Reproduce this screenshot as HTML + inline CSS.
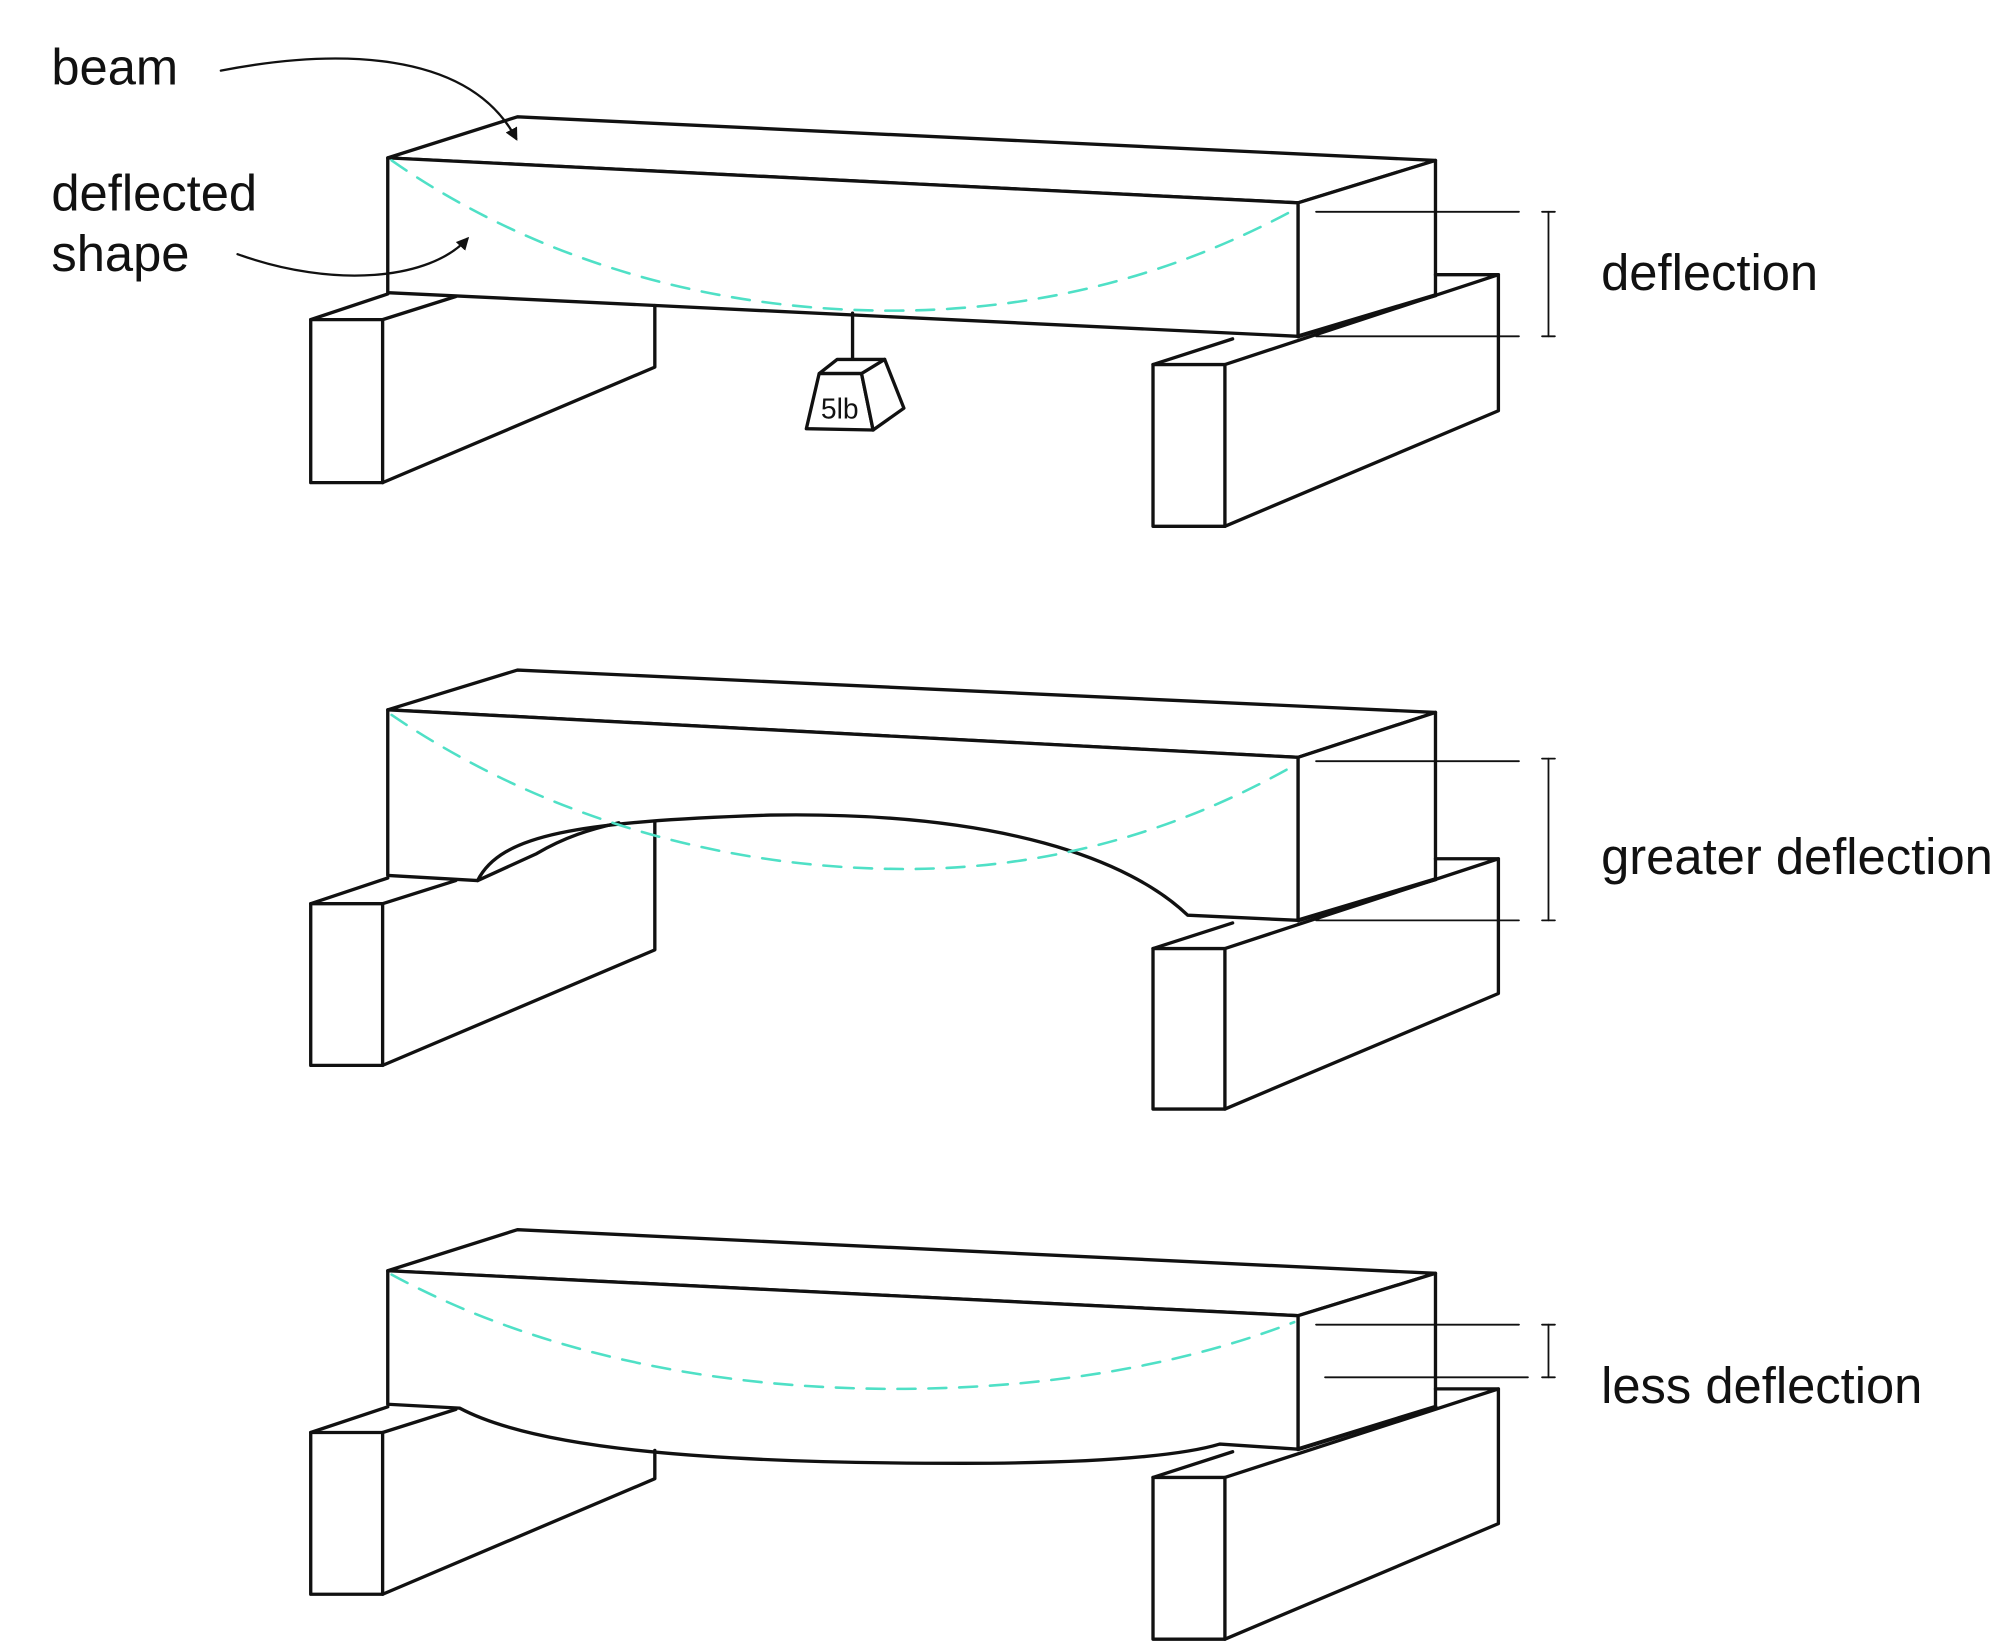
<!DOCTYPE html>
<html><head><meta charset="utf-8"><style>
html,body{margin:0;padding:0;background:#fff;}
svg{display:block;}
text{font-family:"Liberation Sans",sans-serif;fill:#111;}
</style></head><body>
<svg width="2003" height="1652" viewBox="0 0 1560 1287" preserveAspectRatio="none" xmlns="http://www.w3.org/2000/svg">
<defs>
<marker id="ah" markerWidth="10" markerHeight="10" refX="8" refY="5" orient="auto" markerUnits="userSpaceOnUse">
<path d="M0,0 L10,5 L0,10 Z" fill="#111"/></marker>
</defs>
<g fill="none" stroke="#111" stroke-linejoin="round" stroke-linecap="round">
<!-- Panel 1 -->
<g stroke-width="2.6">
<polygon points="302,123 403,91 1118,125 1011,158" fill="#fff"/>
<polygon points="302,123 1011,158 1011,262 302,228" fill="#fff"/>
<polygon points="1011,158 1118,125 1118,230 1011,262" fill="#fff"/>
<rect x="242" y="249" width="56" height="127" fill="#fff"/>
<polyline points="242,249 302,229"/>
<polyline points="298,249 355,231"/>
<polyline points="298,376 510,286 510,238"/>
<rect x="898" y="284" width="56" height="126" fill="#fff"/>
<polyline points="898,284 960,264"/>
<polyline points="954,284 1167,214 1118,214"/>
<polyline points="1167,214 1167,320 954,410"/>
<line x1="1011" y1="262" x2="1118" y2="230" stroke-width="3.2"/>
<line x1="664" y1="244" x2="664" y2="284"/>
<polygon points="638,291 652,280 689,280 676,291" fill="#fff"/>
<polygon points="638,291 671,291 680,335 628,334" fill="#fff"/>
<polygon points="671,291 689,280 704,318 680,335" fill="#fff"/>
</g>
<path d="M305,125 C420,205 560,243 700,242 C830,241 930,205 1005,165" stroke="#4fe0c6" stroke-width="2" stroke-dasharray="14,10"/>
<g stroke-width="1.4">
<line x1="1025" y1="165" x2="1183" y2="165"/>
<line x1="1025" y1="262" x2="1183" y2="262"/>
<line x1="1206" y1="165" x2="1206" y2="262"/>
<line x1="1201" y1="165" x2="1211" y2="165"/>
<line x1="1201" y1="262" x2="1211" y2="262"/>
</g>
<path d="M172,55 C260,38 365,38 402,108" stroke-width="1.8" marker-end="url(#ah)"/>
<path d="M185,198 C260,225 335,218 364,186" stroke-width="1.8" marker-end="url(#ah)"/>

<!-- Panel 2 -->
<g stroke-width="2.6">
<polygon points="302,553 403,522 1118,555 1011,590" fill="#fff"/>
<path d="M302,553 L1011,590 L1011,717 L925,713 C880,670 780,632 600,635 C450,640 390,650 372,686 L302,682 Z" fill="#fff"/>
<polygon points="1011,590 1118,555 1118,685 1011,717" fill="#fff"/>
<rect x="242" y="704" width="56" height="126" fill="#fff"/>
<polyline points="242,704 302,684"/>
<polyline points="298,704 355,686"/>
<polyline points="298,830 510,740 510,640"/>
<path d="M372,686 L418,665 C440,652 460,646 482,641"/>
<rect x="898" y="739" width="56" height="125" fill="#fff"/>
<polyline points="898,739 960,719"/>
<polyline points="954,739 1167,669 1118,669"/>
<polyline points="1167,669 1167,774 954,864"/>
<line x1="1011" y1="717" x2="1118" y2="685" stroke-width="3.2"/>
</g>
<path d="M305,557 C420,635 560,677 705,677 C830,677 930,640 1005,598" stroke="#4fe0c6" stroke-width="2" stroke-dasharray="14,10"/>
<g stroke-width="1.4">
<line x1="1025" y1="593" x2="1183" y2="593"/>
<line x1="1025" y1="717" x2="1183" y2="717"/>
<line x1="1206" y1="591" x2="1206" y2="717"/>
<line x1="1201" y1="591" x2="1211" y2="591"/>
<line x1="1201" y1="717" x2="1211" y2="717"/>
</g>

<!-- Panel 3 -->
<g stroke-width="2.6">
<polygon points="302,990 403,958 1118,992 1011,1025" fill="#fff"/>
<path d="M302,990 L1011,1025 L1011,1129 L950,1125 C930,1131 880,1140 750,1140 C560,1140 420,1130 358,1097 L302,1094 Z" fill="#fff"/>
<polygon points="1011,1025 1118,992 1118,1096 1011,1129" fill="#fff"/>
<rect x="242" y="1116" width="56" height="126" fill="#fff"/>
<polyline points="242,1116 302,1096"/>
<polyline points="298,1116 355,1098"/>
<polyline points="298,1242 510,1152 510,1130"/>
<rect x="898" y="1151" width="56" height="126" fill="#fff"/>
<polyline points="898,1151 960,1131"/>
<polyline points="954,1151 1167,1082 1118,1082"/>
<polyline points="1167,1082 1167,1187 954,1277"/>
<line x1="1011" y1="1129" x2="1118" y2="1096" stroke-width="3.2"/>
</g>
<path d="M305,993 C420,1055 560,1083 705,1082 C830,1081 930,1060 1008,1030" stroke="#4fe0c6" stroke-width="2" stroke-dasharray="14,10"/>
<g stroke-width="1.4">
<line x1="1025" y1="1032" x2="1183" y2="1032"/>
<line x1="1032" y1="1073" x2="1190" y2="1073"/>
<line x1="1206" y1="1032" x2="1206" y2="1073"/>
<line x1="1201" y1="1032" x2="1211" y2="1032"/>
<line x1="1201" y1="1073" x2="1211" y2="1073"/>
</g>
</g>
<text x="40" y="66" font-size="39.5">beam</text>
<text x="40" y="164" font-size="39.5">deflected</text>
<text x="40" y="211" font-size="39.5">shape</text>
<text x="1247" y="226" font-size="39.5">deflection</text>
<text x="1247" y="681" font-size="39.5">greater deflection</text>
<text x="1247" y="1093" font-size="39.5">less deflection</text>
<text x="654" y="326" font-size="22" text-anchor="middle">5lb</text>
</svg>
</body></html>
